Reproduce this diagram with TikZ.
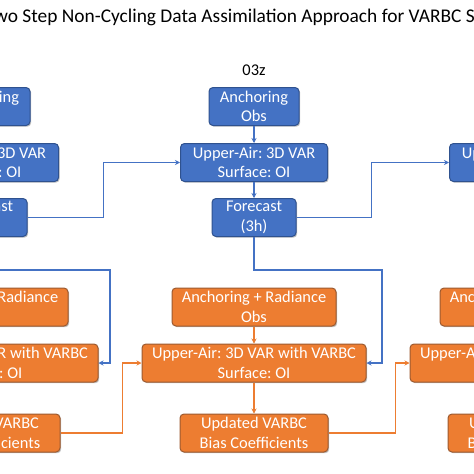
\documentclass[tikz,border=0pt]{standalone}
\usepackage{fontspec}
\setmainfont{Carlito}
\usetikzlibrary{shadows,arrows.meta}

\definecolor{boxblue}{HTML}{4472C4}
\definecolor{edgeblue}{HTML}{2F528F}
\definecolor{boxorange}{HTML}{ED7D31}
\definecolor{edgeorange}{HTML}{9C5A30}
\newcommand\diagfont{\fontsize{16.4}{19.5}\selectfont}
\frenchspacing

\begin{document}
\begin{tikzpicture}[x=1pt,y=-1pt,>={Stealth[length=5pt,width=5pt]},node distance=56pt,
  box/.style={rectangle,rounded corners=4pt,line width=1pt,text=white,align=center,
    minimum height=38pt,inner xsep=2pt,inner ysep=1pt,font=\diagfont,
    drop shadow={shadow xshift=1.2pt,shadow yshift=-1.2pt,opacity=0.35,fill=black!70}},
  blue node/.style={box,fill=boxblue,draw=edgeblue},
  orange node/.style={box,fill=boxorange,draw=edgeorange},
  blue line/.style={draw=boxblue,line width=1.3pt},
  orange line/.style={draw=boxorange,line width=1.3pt},
  obs/.style={minimum width=90pt},
  var/.style={minimum width=147pt},
  fcst/.style={minimum width=84pt},
  radobs/.style={minimum width=164pt},
  varbc/.style={minimum width=224pt},
  coef/.style={minimum width=148pt}]

  \useasboundingbox (0,0) rectangle (474,474);
  \clip (0,0) rectangle (474,474);
  \fill[white] (0,0) rectangle (474,474);

  \node[anchor=base west,inner sep=0pt,font=\fontsize{19.4}{22}\selectfont] (title) at (-6,22)
    {wo Step Non-Cycling Data Assimilation Approach for VARBC S};
  \node[font=\diagfont] (time) at (254,70) {03z};

  % middle column
  \node[blue node,obs] (cao) at (254,106.5) {Anchoring\\Obs};
  \node[blue node,var] (cua) [below of=cao] {Upper-Air: 3D VAR\\Surface: OI};
  \node[blue node,fcst] (cfc) [below of=cua,node distance=55pt] {Forecast\\(3h)};
  \node[orange node,radobs] (cor) at (254,307) {Anchoring + Radiance\\Obs};
  \node[orange node,varbc] (cou) [below of=cor] {Upper-Air: 3D VAR with VARBC\\Surface: OI};
  \node[orange node,coef] (cub) [below of=cou,node distance=70pt] {Updated VARBC\\Bias Coefficients};

  % left column
  \node[blue node,obs] (lao) [left of=cao,node distance=269pt] {Anchoring\\Obs};
  \node[blue node,var] (lua) [left of=cua,node distance=269pt] {Upper-Air: 3D VAR\\Surface: OI};
  \node[blue node,fcst] (lfc) [left of=cfc,node distance=269pt] {Forecast\\(3h)};
  \node[orange node,radobs] (lor) [left of=cor,node distance=268pt] {Anchoring + Radiance\\Obs};
  \node[orange node,varbc] (lou) [left of=cou,node distance=268pt] {Upper-Air: 3D VAR with VARBC\\Surface: OI};
  \node[orange node,coef] (lub) [left of=cub,node distance=268pt] {Updated VARBC\\Bias Coefficients};

  % right column
  \node[blue node,obs] (rao) [right of=cao,node distance=269pt] {Anchoring\\Obs};
  \node[blue node,var] (rua) [right of=cua,node distance=269pt] {Upper-Air: 3D VAR\\Surface: OI};
  \node[blue node,fcst] (rfc) [right of=cfc,node distance=269pt] {Forecast\\(3h)};
  \node[orange node,radobs] (ror) [right of=cor,node distance=268pt] {Anchoring + Radiance\\Obs};
  \node[orange node,varbc] (rou) [right of=cou,node distance=268pt] {Upper-Air: 3D VAR with VARBC\\Surface: OI};
  \node[orange node,coef] (rub) [right of=cub,node distance=268pt] {Updated VARBC\\Bias Coefficients};

  \path[blue line,->]
    (lao) edge (lua) (lua) edge (lfc)
    (cao) edge (cua) (cua) edge (cfc)
    (rao) edge (rua) (rua) edge (rfc);
  \path[orange line,->]
    (lor) edge (lou) (lou) edge (lub)
    (cor) edge (cou) (cou) edge (cub)
    (ror) edge (rou) (rou) edge (rub);

  % forecast to next cycle
  \draw[blue line,->] (lfc.east) -- ++(76,0) |- (cua.west);
  \draw[blue line,->] (cfc.east) -- ++(75,0) |- (rua.west);
  \draw[blue line,->] (lfc.south) -- ++(0,33) -- ++(125,0) |- (lou.east);
  \draw[blue line,->] (cfc.south) -- ++(0,33) -- ++(128,0) |- (cou.east);

  % bias coefficients to next cycle
  \draw[orange line,->] (lub.east) -- ++(62,0) |- (cou.west);
  \draw[orange line,->] (cub.east) -- ++(67,0) |- (rou.west);
\end{tikzpicture}
\end{document}
